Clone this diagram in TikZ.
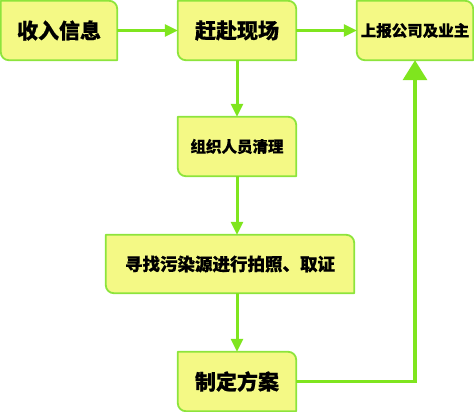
\documentclass[tikz,border=0pt]{standalone}
\usepackage{fontspec}
\newfontfamily\cjk{Noto Sans CJK SC}[BoldFeatures={FakeBold=0.6}]
\usetikzlibrary{arrows.meta,backgrounds}
\definecolor{cardfill}{HTML}{F4F985}
\definecolor{cardedge}{HTML}{8DE43C}
\definecolor{linkgreen}{HTML}{7FE51E}
\tikzset{
  card/.style={rectangle, inner sep=0pt, minimum width=118pt, minimum height=59pt,
    text=black, font=\cjk\bfseries\fontsize{21}{24}\selectfont},
  cardsm/.style={card, font=\cjk\bfseries\fontsize{15.5}{18}\selectfont},
  cardbg/.style={fill=cardfill, draw=cardedge, line width=1.8pt, line join=round},
  link/.style={draw=linkgreen, line width=3pt, -{Triangle[length=13pt,width=12pt]}},
  linkbig/.style={draw=linkgreen, line width=3.5pt, line join=miter, -{Triangle[length=20pt,width=24pt]}},
}
% box outline: rounded top right and bottom left corners
\newcommand{\cardshape}[1]{%
  \path[cardbg] (#1.north west) -- ([xshift=-8pt]#1.north east)
    arc[start angle=90,end angle=0,radius=8pt] -- (#1.south east)
    -- ([xshift=8pt]#1.south west)
    arc[start angle=270,end angle=180,radius=8pt] -- cycle;}

\begin{document}
\begin{tikzpicture}[x=1pt,y=1pt]
  \useasboundingbox (0,0) rectangle (474,-412);
  \node[card, minimum width=116pt] (receive) at (59,-30.5) {收入信息};
  \node[card] (rush) at (237,-30.5) {赶赴现场};
  \node[cardsm, minimum width=116pt] (report) at (415,-30.5) {上报公司及业主};
  \node[cardsm] (organize) at (237,-146.5) {组织人员清理};
  \node[card, minimum width=248pt, minimum height=58pt,
    font=\cjk\bfseries\fontsize{17.5}{20}\selectfont] (search) at (230,-264) {寻找污染源进行拍照、取证};
  \node[card] (plan) at (237,-381.5) {制定方案};
  \begin{pgfonlayer}{background}
    \foreach \n in {receive,rush,report,organize,search,plan}
      \cardshape{\n};
  \end{pgfonlayer}
  \draw[link] (receive.east) -- (rush.west);
  \draw[link] (rush.east) -- (report.west);
  \draw[link] (rush.south) -- (organize.north);
  \draw[link] (organize.south) -- (search.north -| organize.south);
  \draw[link] (search.south -| plan.north) -- (plan.north);
  \draw[linkbig] (plan.east) -- (plan.east -| report.south) -- (report.south);
\end{tikzpicture}
\end{document}
